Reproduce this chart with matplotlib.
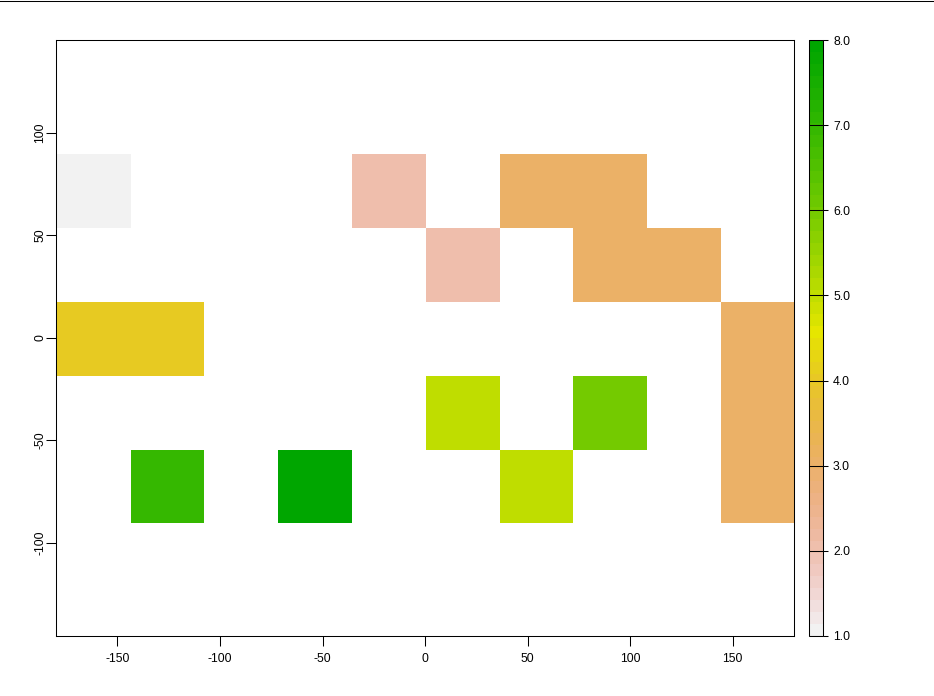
import numpy as np
import matplotlib
matplotlib.use('Agg')
import matplotlib.pyplot as plt
from matplotlib.cm import ScalarMappable
from matplotlib.colors import ListedColormap, Normalize, hsv_to_rgb
from matplotlib.lines import Line2D

plt.rcParams['font.family'] = ['Liberation Sans', 'DejaVu Sans']

# Data
x_edges = [-180, -143.6, -107.6, -71.6, -35.6, 0.4, 36.4, 72.4, 108.4, 144.4, 180]
y_edges = [-90, -54.6, -18.5, 17.6, 53.7, 89.7]
nan = np.nan
# rows go from south to north
cells = np.array([
    [nan, 7, nan, 8, nan, nan, 5, nan, nan, 3],
    [nan, nan, nan, nan, nan, 5, nan, 6, nan, 3],
    [4, 4, nan, nan, nan, nan, nan, nan, nan, 3],
    [nan, nan, nan, nan, nan, 2, nan, 3, 3, nan],
    [1, nan, nan, nan, 2, nan, 3, 3, nan, nan],
])
x_ticks = [-150, -100, -50, 0, 50, 100, 150]
y_ticks = [-100, -50, 0, 50, 100]
bar_ticks = [1, 2, 3, 4, 5, 6, 7, 8]


# same ramp as terrain.colors in R, reversed (low = grey, high = green)
def terrain(n):
    k = n // 2
    h1 = np.linspace(4 / 12, 2 / 12, k)
    s1 = np.ones(k)
    v1 = np.linspace(0.65, 0.9, k)
    h2 = np.linspace(2 / 12, 0, n - k + 1)[1:]
    s2 = np.linspace(1, 0, n - k + 1)[1:]
    v2 = np.linspace(0.9, 0.95, n - k + 1)[1:]
    hsv = np.column_stack([np.r_[h1, h2], np.r_[s1, s2], np.r_[v1, v2]])
    return hsv_to_rgb(hsv)[::-1]


W, H = 934, 696
norm = Normalize(1, 8)
fig = plt.figure(figsize=(W / 100, H / 100), dpi=100)
lw = 0.75
font = 8.8


def box(x0, y0, x1, y1):
    return [x0 / W, 1 - y1 / H, (x1 - x0) / W, (y1 - y0) / H]


# Map
ax = fig.add_axes(box(56, 40, 794, 636))
ax.pcolormesh(x_edges, y_edges, np.ma.masked_invalid(cells),
              cmap=ListedColormap(terrain(255)), norm=norm, linewidth=0)
ax.set_xlim(-180, 180)
ax.set_ylim(-145.3, 145.2)
ax.set_xticks(x_ticks)
ax.set_xticklabels([str(v) for v in x_ticks], fontsize=font)
ax.set_yticks(y_ticks)
ax.set_yticklabels([str(v) for v in y_ticks], fontsize=font,
                   rotation=90, va='center')
ax.tick_params(axis='x', length=7.2, width=lw, pad=5)
ax.tick_params(axis='y', length=7.2, width=lw, pad=0)
for s in ax.spines.values():
    s.set_linewidth(lw)

# Legend bar
cax = fig.add_axes(box(809, 40, 823, 636))
bar = fig.colorbar(ScalarMappable(norm=norm, cmap=ListedColormap(terrain(50))),
                   cax=cax)
bar.set_ticks(bar_ticks)
bar.set_ticklabels(['%.1f' % v for v in bar_ticks], fontsize=font)
bar.ax.tick_params(length=3.6, width=lw, pad=3.6, color='black')
bar.outline.set_linewidth(lw)
for v in bar_ticks:
    bar.ax.axhline(v, color='black', linewidth=lw)

# Black rule along the very top of the window
fig.add_artist(Line2D([0, 1], [1 - 0.5 / H, 1 - 0.5 / H], color='black', linewidth=lw))

fig.savefig('out.png', dpi=100)
